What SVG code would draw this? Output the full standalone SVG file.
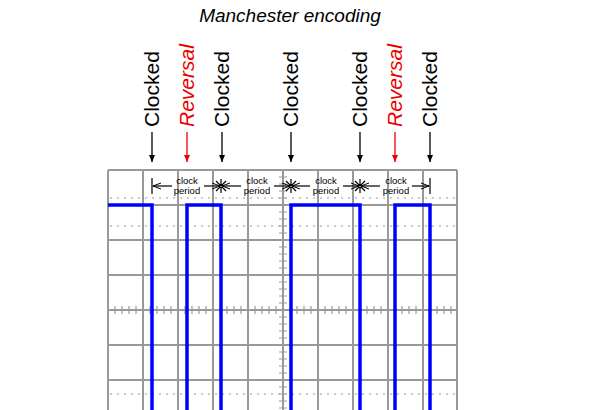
<svg xmlns="http://www.w3.org/2000/svg" width="615" height="410" viewBox="0 0 615 410">
<defs>
<marker id="ah" markerWidth="8" markerHeight="8" refX="7" refY="4" orient="auto" markerUnits="userSpaceOnUse"><path d="M0,1 L7,4 L0,7 Z" fill="#000"/></marker>
<marker id="ahr" markerWidth="8" markerHeight="8" refX="7" refY="4" orient="auto" markerUnits="userSpaceOnUse"><path d="M0,1 L7,4 L0,7 Z" fill="#e00"/></marker>
<marker id="dh" markerWidth="9" markerHeight="8" refX="8" refY="4" orient="auto" markerUnits="userSpaceOnUse"><path d="M0,1 L8,4 L0,7" fill="none" stroke="#000" stroke-width="1"/></marker>
</defs>
<style>
.g{stroke:#999;stroke-width:2;fill:none}
.d{stroke:#999;stroke-width:1.2;stroke-dasharray:2 5}
.t{stroke:#999;stroke-width:1.2}
.lab{font-family:"Liberation Sans",Arial,sans-serif;font-size:21px}
.cp{font-family:"Liberation Sans",Arial,sans-serif;font-size:9.5px;fill:#000}
</style>
<rect width="615" height="410" fill="#fff"/>
<text x="290" y="22" text-anchor="middle" font-family="Liberation Sans,Arial,sans-serif" font-size="19" font-style="italic">Manchester encoding</text>
<g id="grid">
<path class="g" d="M108,170V410M143,170V410M178,170V410M213,170V410M248,170V410M283,170V410M318,170V410M353,170V410M388,170V410M423,170V410M457,170V410"/>
<path class="g" d="M108,170H457M108,205H457M108,240H457M108,275H457M108,310H457M108,345H457M108,380H457"/>
<path class="d" d="M110,198H457M110,226H457M110,394H457"/>
<path class="t" d="M279,177H287M279,184H287M279,191H287M279,198H287M279,212H287M279,219H287M279,226H287M279,233H287M279,247H287M279,254H287M279,261H287M279,268H287M279,282H287M279,289H287M279,296H287M279,303H287M279,317H287M279,324H287M279,331H287M279,338H287M279,352H287M279,359H287M279,366H287M279,373H287M279,387H287M279,394H287M279,401H287M279,408H287"/>
<path class="t" d="M115,306V314M122,306V314M129,306V314M136,306V314M150,306V314M157,306V314M164,306V314M171,306V314M185,306V314M192,306V314M199,306V314M206,306V314M220,306V314M227,306V314M234,306V314M241,306V314M255,306V314M262,306V314M269,306V314M276,306V314M290,306V314M297,306V314M304,306V314M311,306V314M325,306V314M332,306V314M339,306V314M346,306V314M360,306V314M367,306V314M374,306V314M381,306V314M395,306V314M402,306V314M409,306V314M416,306V314M430,306V314M437,306V314M444,306V314M451,306V314"/>
</g>
<g id="signal">
<path d="M108,205H152V410M187,410V205H221V410M291,410V205H360V410M395,410V205H430V410" fill="none" stroke="#00f" stroke-width="3.5"/>
</g>
<g id="labels">
<text class="lab" transform="translate(159,127) rotate(-90)">Clocked</text>
<text class="lab" transform="translate(194,127) rotate(-90)" fill="#e00" font-style="italic">Reversal</text>
<text class="lab" transform="translate(229,127) rotate(-90)">Clocked</text>
<text class="lab" transform="translate(298,127) rotate(-90)">Clocked</text>
<text class="lab" transform="translate(367,127) rotate(-90)">Clocked</text>
<text class="lab" transform="translate(402,127) rotate(-90)" fill="#e00" font-style="italic">Reversal</text>
<text class="lab" transform="translate(437,127) rotate(-90)">Clocked</text>
</g>
<g id="connectors" stroke-width="1.3">
<path d="M152,132V162" stroke="#000" marker-end="url(#ah)"/>
<path d="M187,132V162" stroke="#e00" marker-end="url(#ahr)"/>
<path d="M222,132V162" stroke="#000" marker-end="url(#ah)"/>
<path d="M291,132V162" stroke="#000" marker-end="url(#ah)"/>
<path d="M360,132V162" stroke="#000" marker-end="url(#ah)"/>
<path d="M395,132V162" stroke="#e00" marker-end="url(#ahr)"/>
<path d="M430,132V162" stroke="#000" marker-end="url(#ah)"/>
</g>
<g id="dimensions" stroke="#000" stroke-width="1.2" fill="none">
<path d="M152,178V194M430,178V194"/>
<path d="M221,179V193M216,181L226,191M216,191L226,181M291,179V193M286,181L296,191M286,191L296,181M360,179V193M355,181L365,191M355,191L365,181"/>
<path d="M172,186H153" marker-end="url(#dh)"/><path d="M204,186H220" marker-end="url(#dh)"/>
<path d="M241,186H222" marker-end="url(#dh)"/><path d="M274,186H290" marker-end="url(#dh)"/>
<path d="M310,186H292" marker-end="url(#dh)"/><path d="M343,186H359" marker-end="url(#dh)"/>
<path d="M380,186H361" marker-end="url(#dh)"/><path d="M412,186H429" marker-end="url(#dh)"/>
</g>
<g id="periods" text-anchor="middle">
<text class="cp" x="187" y="184">clock</text><text class="cp" x="187" y="194">period</text>
<text class="cp" x="257" y="184">clock</text><text class="cp" x="257" y="194">period</text>
<text class="cp" x="326" y="184">clock</text><text class="cp" x="326" y="194">period</text>
<text class="cp" x="396" y="184">clock</text><text class="cp" x="396" y="194">period</text>
</g>
</svg>
